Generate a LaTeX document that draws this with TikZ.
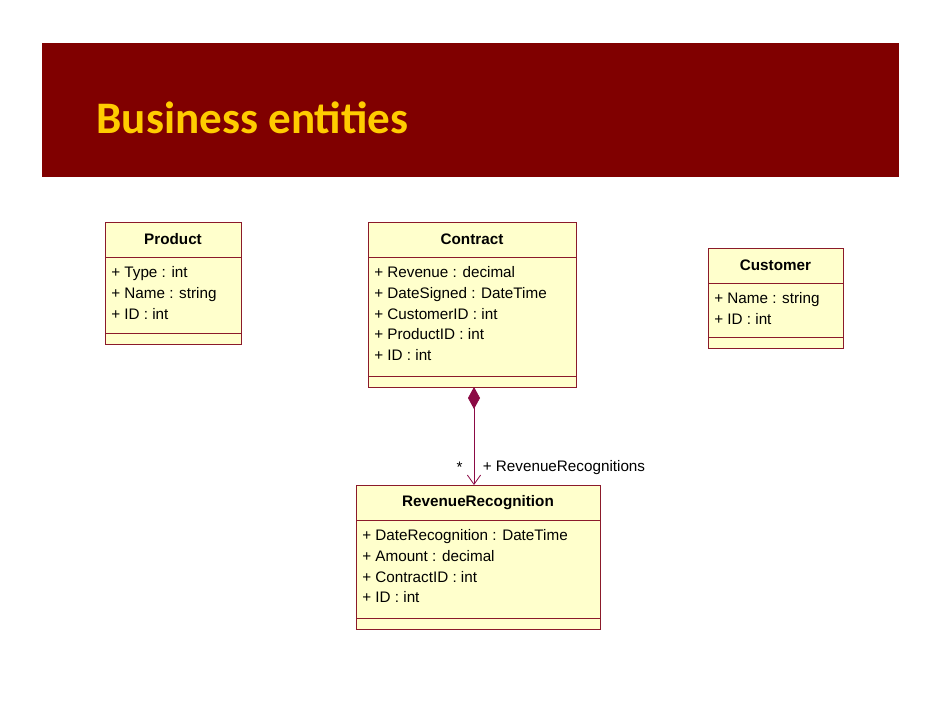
\documentclass[tikz,border=0pt]{standalone}
\usepackage{fontspec}
\setmainfont{Liberation Sans}
\newfontfamily\titlefont{Carlito}
\usetikzlibrary{arrows.meta}
\definecolor{banner}{HTML}{800000}
\definecolor{titleyellow}{HTML}{FFCC00}
\definecolor{classfill}{HTML}{FFFFCC}
\definecolor{classline}{HTML}{8B1A2A}
\definecolor{assoc}{HTML}{8B0A45}
\tikzset{
  classbox/.style={draw=classline, fill=classfill, line width=0.6pt, inner sep=0pt},
  classname/.style={font=\fontsize{11.5}{14}\selectfont\bfseries},
  attrs/.style={anchor=north west, align=left, inner sep=0pt,
    font=\fontsize{11.5}{15.75}\selectfont},
}
% box name, x1, y1, x2, y2, y of first and second separator, title, attributes
\newcommand{\umlclass}[9]{
  \node[classbox, minimum width={(#4-#2)*0.0265cm}, minimum height={(#5-#3)*0.0265cm}]
    (#1) at ({(#2+#4)/2}, {(#3+#5)/2}) {};
  \draw[classline, line width=0.6pt] (#2,#6) -- (#4,#6) (#2,#7) -- (#4,#7);
  \node[classname] (#1-name) at ({(#2+#4)/2}, {(#3+#6)/2}) {#8};
  \node[attrs] (#1-attrs) at ({#2+6}, {#6+9}) {#9};
}
\begin{document}
\begin{tikzpicture}[x=0.0265cm, y=-0.0265cm]
  \useasboundingbox (0,0) rectangle (942,728);
  % title banner
  \fill[banner] (42,43) rectangle (899,177);
  \node[anchor=west, text=titleyellow, font=\titlefont\fontsize{34}{40}\selectfont\bfseries]
    (title) at (92,118) {Business entities};
  % classes
  \umlclass{product}{105}{222}{241}{344}{257}{333}{Product}
    {+ Type : int\\+ Name : string\\+ ID : int}
  \umlclass{contract}{368}{222}{576}{387}{257}{376}{Contract}
    {+ Revenue : decimal\\+ DateSigned : DateTime\\+ CustomerID : int\\+ ProductID : int\\+ ID : int}
  \umlclass{customer}{708}{248}{843}{348}{283}{337}{Customer}
    {+ Name : string\\+ ID : int}
  \umlclass{revrec}{356}{485}{600}{629}{520}{618}{RevenueRecognition}
    {+ DateRecognition : DateTime\\+ Amount : decimal\\+ ContractID : int\\+ ID : int}
  % composition
  \coordinate (whole) at (474,387);
  \coordinate (part) at (474,485);
  \draw[assoc, line width=0.6pt, {Diamond[length=22*0.0265cm, width=12*0.0265cm]}-{Straight Barb[length=7pt, width=10pt]}]
    (whole) -- (part)
    node[pos=0.82, left=5pt, text=black, font=\fontsize{11.5}{14}\selectfont] (mult) {*}
    node[pos=0.82, right=3pt, text=black, font=\fontsize{11.5}{14}\selectfont] (role) {+ RevenueRecognitions};
\end{tikzpicture}
\end{document}
